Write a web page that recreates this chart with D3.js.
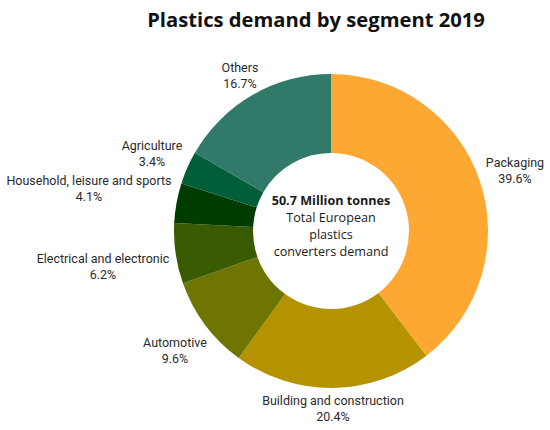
<!DOCTYPE html>
<html><head><meta charset="utf-8">
<script src="https://cdn.jsdelivr.net/npm/d3@7"></script>
<style>body{margin:0;background:#fff}</style>
</head><body>
<svg id="c" width="550" height="430"></svg>
<script>
const categories = ["Packaging","Building and construction","Automotive","Electrical and electronic","Household, leisure and sports","Agriculture","Others"];
const values = [39.6, 20.4, 9.6, 6.2, 4.1, 3.4, 16.7];
const colors = ["#FCA832","#B59300","#6E7500","#385A00","#003C00","#005E38","#317A69"];
const labelPos = [[515,162],[333,400],[175,342],[103,258],[89,180],[152,145],[240,67]];
const title = "Plastics demand by segment 2019";
const centerLines = ["50.7 Million tonnes","Total European","plastics","converters demand"];

const svg = d3.select("#c");
const cx = 331, cy = 231, R = 157, r = 78;
svg.append("text").attr("x",316).attr("y",27).attr("text-anchor","middle")
  .attr("font-family","Open Sans").attr("font-weight","bold").attr("font-size",20.2)
  .attr("fill","#111").text(title);

const pie = d3.pie().sort(null).value(d=>d)(values);
const arc = d3.arc().innerRadius(r).outerRadius(R);
const color = d3.scaleOrdinal().domain(categories).range(colors);
const g = svg.append("g").attr("transform",`translate(${cx},${cy})`);
g.selectAll("path").data(pie).join("path").attr("d",arc)
  .attr("fill",(d,i)=>color(categories[i]));

const lab = svg.append("g").attr("font-family","Roboto").attr("font-size",12.5).attr("fill","#2a2a2a").attr("text-anchor","middle");
categories.forEach((c,i)=>{
  const [x,y]=labelPos[i];
  const t = lab.append("text").attr("x",x).attr("y",y+4.5);
  t.append("tspan").attr("x",x).text(c);
  t.append("tspan").attr("x",x).attr("dy",16.5).text(values[i].toFixed(1)+"%");
});

const ct = svg.append("g").attr("font-family","Open Sans").attr("font-size",12.6).attr("fill","#1a1a1a").attr("text-anchor","middle");
const cys=[200,217,234,251];
centerLines.forEach((s,i)=>{
  ct.append("text").attr("x",cx).attr("y",cys[i]+4.5).attr("font-weight",i===0?"bold":"normal").text(s);
});
</script>
</body></html>
